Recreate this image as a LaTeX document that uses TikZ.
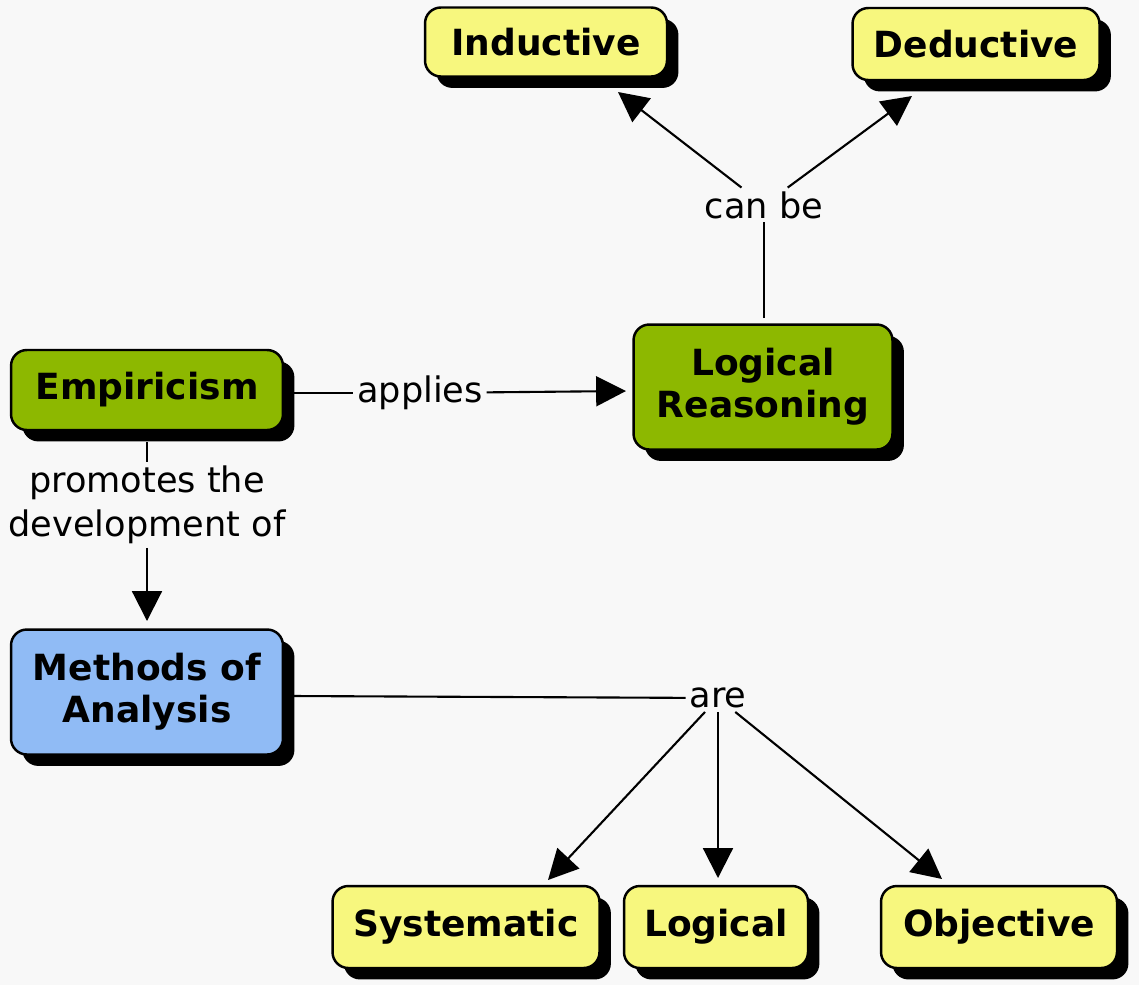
\documentclass[tikz,border=0pt]{standalone}
\usepackage{fontspec}
\setmainfont{DejaVu Sans}
\usetikzlibrary{shadows,arrows.meta}
\definecolor{bg}{HTML}{F8F8F8}
\definecolor{yel}{HTML}{F7F77E}
\definecolor{grn}{HTML}{8DB800}
\definecolor{blu}{HTML}{90BBF5}
\begin{document}
\begin{tikzpicture}[x=0.02cm,y=-0.02cm,
 box/.style={draw=black,line width=1.4pt,rounded corners=9pt,font=\bfseries\fontsize{20.5}{24}\selectfont,align=center,inner sep=0pt,
   drop shadow={fill=black,opacity=1,shadow xshift=6.5pt,shadow yshift=-6.5pt}},
 lab/.style={fill=bg,font=\fontsize{20}{25}\selectfont,align=center,inner sep=2pt},
 ln/.style={line width=1.2pt},
 ar/.style={line width=1.2pt,-{Triangle[length=17pt,width=17pt]}}]
\fill[bg] (0,0) rectangle (1139,985);
\node[box,fill=yel,minimum width=4.84cm,minimum height=1.38cm] (ind) at (546,42) {Inductive};
\node[box,fill=yel,minimum width=4.94cm,minimum height=1.44cm] (ded) at (976,44) {Deductive};
\node[box,fill=grn,minimum width=5.18cm,minimum height=2.5cm] (lr) at (763,387) {Logical\\Reasoning};
\node[box,fill=grn,minimum width=5.44cm,minimum height=1.6cm] (emp) at (147,390) {Empiricism};
\node[box,fill=blu,minimum width=5.44cm,minimum height=2.5cm] (moa) at (147,692) {Methods of\\Analysis};
\node[box,fill=yel,minimum width=5.34cm,minimum height=1.64cm] (sys) at (466,927) {Systematic};
\node[box,fill=yel,minimum width=3.68cm,minimum height=1.64cm] (log) at (716,927) {Logical};
\node[box,fill=yel,minimum width=4.72cm,minimum height=1.64cm] (obj) at (999,927) {Objective};
\node[lab] (canbe) at (764,205) {can be};
\node[lab] (app) at (420,393) {applies};
\node[lab] (prom) at (147,505) {promotes the\\development of};
\node[lab] (are) at (718,698) {are};
\coordinate (lrt) at (764,318);
\coordinate (empr) at (293,393);
\coordinate (empb) at (147,442);
\coordinate (moar) at (293,696);
\coordinate (indt) at (618,92);
\coordinate (dedt) at (912,96);
\coordinate (lrl) at (626,391);
\coordinate (moat) at (147,621);
\coordinate (syst) at (548,880);
\coordinate (logt) at (718,878);
\coordinate (objt) at (942,879);
\draw[ln] (lrt) -- (canbe);
\draw[ar] (canbe) -- (indt);
\draw[ar] (canbe) -- (dedt);
\draw[ln] (empr) -- (app);
\draw[ar] (app) -- (lrl);
\draw[ln] (empb) -- (prom);
\draw[ar] (prom) -- (moat);
\draw[ln] (moar) -- (are);
\draw[ar] (are) -- (syst);
\draw[ar] (are) -- (logt);
\draw[ar] (are) -- (objt);
\end{tikzpicture}
\end{document}
